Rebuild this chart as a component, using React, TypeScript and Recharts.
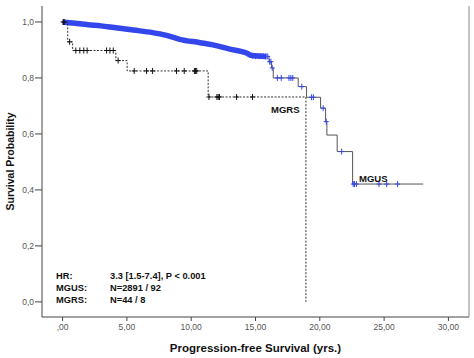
import {
  ComposedChart,
  Line,
  Scatter,
  XAxis,
  YAxis,
} from 'recharts';

// Kaplan-Meier steps (years, survival)
const mgrsSteps = [
  { x: 0, y: 1.0 },
  { x: 0.4, y: 0.929 },
  { x: 0.78, y: 0.898 },
  { x: 4.14, y: 0.862 },
  { x: 5.02, y: 0.825 },
  { x: 11.32, y: 0.732 },
  { x: 18.92, y: 0.0 },
];

const mgrsCensored = [
  { x: 0.05, y: 1.0 }, { x: 0.12, y: 1.0 }, { x: 0.55, y: 0.929 },
  { x: 1.03, y: 0.898 }, { x: 1.34, y: 0.898 }, { x: 1.65, y: 0.898 }, { x: 1.91, y: 0.898 },
  { x: 3.42, y: 0.898 }, { x: 3.68, y: 0.898 }, { x: 3.94, y: 0.898 },
  { x: 4.32, y: 0.862 },
  { x: 5.57, y: 0.825 }, { x: 6.53, y: 0.825 }, { x: 7.0, y: 0.825 }, { x: 8.86, y: 0.825 },
  { x: 9.46, y: 0.825 }, { x: 10.25, y: 0.825 }, { x: 10.34, y: 0.825 }, { x: 10.43, y: 0.825 },
  { x: 11.38, y: 0.732 }, { x: 12.0, y: 0.732 }, { x: 12.1, y: 0.732 }, { x: 12.2, y: 0.732 },
  { x: 13.53, y: 0.732 }, { x: 14.77, y: 0.732 },
];

// dense early part of MGUS (censor marks merge into a thick band)
const mgusBand = [
  { x: 0, y: 1.0 }, { x: 1, y: 0.995 }, { x: 2, y: 0.99 }, { x: 3, y: 0.986 },
  { x: 4, y: 0.98 }, { x: 5.5, y: 0.971 }, { x: 7, y: 0.962 }, { x: 8, y: 0.953 },
  { x: 9.1, y: 0.938 }, { x: 10.7, y: 0.926 }, { x: 11.7, y: 0.918 }, { x: 13, y: 0.903 },
  { x: 14.3, y: 0.889 }, { x: 14.7, y: 0.88 }, { x: 15.86, y: 0.877 },
];

const mgusSteps = [
  { x: 15.86, y: 0.877 },
  { x: 16.05, y: 0.858 },
  { x: 16.25, y: 0.836 },
  { x: 16.38, y: 0.8 },
  { x: 18.32, y: 0.769 },
  { x: 18.97, y: 0.731 },
  { x: 20.06, y: 0.692 },
  { x: 20.45, y: 0.644 },
  { x: 20.55, y: 0.596 },
  { x: 21.35, y: 0.537 },
  { x: 22.55, y: 0.421 },
  { x: 28.04, y: 0.421 },
];

const mgusCensored = [
  { x: 14.5, y: 0.884 }, { x: 14.8, y: 0.879 }, { x: 15.0, y: 0.878 }, { x: 15.2, y: 0.878 },
  { x: 15.4, y: 0.878 }, { x: 15.6, y: 0.878 }, { x: 15.8, y: 0.877 }, { x: 15.95, y: 0.877 },
  { x: 16.1, y: 0.858 }, { x: 16.2, y: 0.858 }, { x: 16.3, y: 0.836 },
  { x: 16.7, y: 0.8 }, { x: 17.0, y: 0.8 }, { x: 17.6, y: 0.8 }, { x: 17.75, y: 0.8 }, { x: 17.9, y: 0.8 },
  { x: 18.6, y: 0.769 },
  { x: 19.36, y: 0.731 }, { x: 19.5, y: 0.731 },
  { x: 20.26, y: 0.692 },
  { x: 20.5, y: 0.644 },
  { x: 21.7, y: 0.537 },
  { x: 22.6, y: 0.421 }, { x: 22.7, y: 0.421 }, { x: 22.85, y: 0.421 },
  { x: 24.6, y: 0.421 }, { x: 25.2, y: 0.421 }, { x: 26.05, y: 0.421 },
];

const xTicks = [0, 5, 10, 15, 20, 25, 30];
const yTicks = [0, 0.2, 0.4, 0.6, 0.8, 1.0];

const statsRows = [
  ['HR:', '3.3 [1.5-7.4], P < 0.001'],
  ['MGUS:', 'N=2891 / 92'],
  ['MGRS:', 'N=44 / 8'],
];

const blue = '#3447ec';
const font = '"Liberation Sans", Arial, sans-serif';

const plus = (color: string) => (props: any) => {
  const { cx, cy } = props;
  return (
    <path
      d={`M${cx - 2.5},${cy}h5M${cx},${cy - 3}v6`}
      stroke={color}
      strokeWidth={1}
      fill="none"
    />
  );
};

const fmtX = (v: number) => (v === 0 ? ',00' : v.toFixed(2).replace('.', ','));
const fmtY = (v: number) => v.toFixed(1).replace('.', ',');

export default function App() {
  const tickStyle = { fill: '#555', fontSize: 8.5, fontFamily: font };
  return (
    <div style={{ position: 'absolute', left: 0, top: 0, width: 474, height: 358, background: '#fff' }}>
      <ComposedChart width={474} height={358} margin={{ top: 6, right: 0, bottom: 0, left: 0 }}>
        <XAxis
          dataKey="x"
          type="number"
          domain={[-1.6, 31.6]}
          allowDataOverflow
          ticks={xTicks}
          tickFormatter={fmtX}
          tick={tickStyle}
          tickSize={4}
          tickMargin={3}
          height={41}
          stroke="#444"
          label={{
            value: 'Progression-free Survival (yrs.)',
            position: 'insideBottom',
            offset: 6,
            style: { fontFamily: font, fontWeight: 700, fontSize: 11.5, fill: '#111' },
          }}
        />
        <XAxis
          xAxisId="top"
          orientation="top"
          type="number"
          domain={[-1.6, 31.6]}
          tick={false}
          tickLine={false}
          height={0}
          stroke="#888"
        />
        <YAxis
          dataKey="y"
          type="number"
          domain={[-0.054, 1.057]}
          allowDataOverflow
          ticks={yTicks}
          tickFormatter={fmtY}
          tick={tickStyle}
          tickSize={7}
          tickMargin={1}
          width={42}
          stroke="#444"
          label={{
            value: 'Survival Probability',
            angle: -90,
            position: 'insideLeft',
            offset: 10,
            style: { textAnchor: 'middle', fontFamily: font, fontWeight: 700, fontSize: 10.5, fill: '#111' },
          }}
        />
        <YAxis
          yAxisId="r"
          orientation="right"
          type="number"
          domain={[-0.054, 1.057]}
          ticks={[0.421]}
          tick={false}
          tickSize={3}
          width={5}
          stroke="#888"
        />
        <Line
          data={mgusBand}
          dataKey="y"
          type="monotone"
          stroke={blue}
          strokeWidth={5.5}
          dot={false}
          isAnimationActive={false}
        />
        <Line
          data={mgusSteps}
          dataKey="y"
          type="stepAfter"
          stroke="#555"
          strokeWidth={1}
          dot={false}
          isAnimationActive={false}
        />
        <Line
          data={mgrsSteps}
          dataKey="y"
          type="stepAfter"
          stroke="#333"
          strokeWidth={1}
          strokeDasharray="2 1.5"
          dot={false}
          isAnimationActive={false}
        />
        <Scatter data={mgusCensored} dataKey="y" shape={plus(blue)} isAnimationActive={false} />
        <Scatter data={mgrsCensored} dataKey="y" shape={plus('#111')} isAnimationActive={false} />
      </ComposedChart>

      <div style={{ position: 'absolute', left: 271, top: 104, fontFamily: font, fontWeight: 700, fontSize: 9.5, color: '#111' }}>
        MGRS
      </div>
      <div style={{ position: 'absolute', left: 359, top: 173, fontFamily: font, fontWeight: 700, fontSize: 9.5, color: '#111' }}>
        MGUS
      </div>
      <div style={{ position: 'absolute', left: 56, top: 270, fontFamily: font, fontWeight: 700, fontSize: 9.3, color: '#111', lineHeight: '12px' }}>
        {statsRows.map((r) => (
          <div key={r[0]} style={{ display: 'flex' }}>
            <span style={{ width: 54 }}>{r[0]}</span>
            <span>{r[1]}</span>
          </div>
        ))}
      </div>
    </div>
  );
}
